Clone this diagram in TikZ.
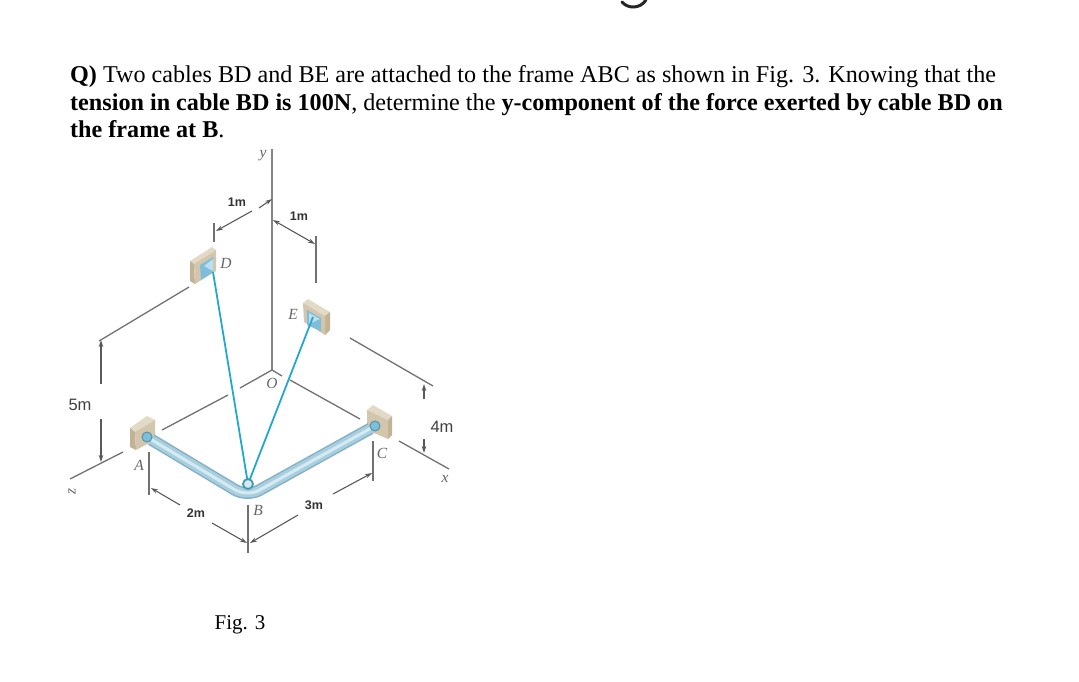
\documentclass[tikz,border=0pt]{standalone}
\usepackage{fontspec}
\setmainfont{Liberation Serif}
\newfontfamily\dimfont{Liberation Sans}
\usetikzlibrary{arrows.meta}
\definecolor{platefront}{HTML}{D4C6AC}
\definecolor{plateside}{HTML}{C2B396}
\definecolor{platetop}{HTML}{E2D9C6}
\definecolor{cablecol}{HTML}{22A8CF}
\definecolor{pipedark}{HTML}{86B0C4}
\definecolor{pipemid}{HTML}{A8CFE0}
\definecolor{pipelight}{HTML}{D6EAF2}
\definecolor{seatcol}{HTML}{7FBEDA}
\definecolor{seatlight}{HTML}{BBDFEC}
\definecolor{axiscol}{HTML}{858585}
\begin{document}
\begin{tikzpicture}[x=1pt,y=-1pt,
  axisln/.style={draw=axiscol,line width=2pt},
  guide/.style={draw=axiscol!85!black,line width=1.3pt},
  dimln/.style={draw=black!65,line width=1.1pt,-{Stealth[length=7pt,width=4.5pt]}},
  cable/.style={draw=cablecol,line width=1.8pt},
  para/.style={anchor=base west,inner sep=0pt,font=\fontsize{24.15}{28}\selectfont},
  dimlbl/.style={inner sep=0pt,font=\dimfont\bfseries\fontsize{12.5}{14}\selectfont,text=black!80},
  bigdim/.style={inner sep=0pt,font=\dimfont\fontsize{16.5}{18}\selectfont,text=black!75},
  ptlbl/.style={inner sep=0pt,font=\itshape\fontsize{15.5}{17}\selectfont,text=black!60}]
\useasboundingbox (0,0) rectangle (1079,681);
\node[para] (line1) at (70,82) {\textbf{Q)} Two cables BD and BE are attached to the frame ABC as shown in Fig. 3. Knowing that the};
\node[para] (line2) at (70,110) {\textbf{tension in cable BD is 100N}, determine the \textbf{y-component of the force exerted by cable BD on}};
\node[para] (line3) at (70,137) {\textbf{the frame at B}.};
\node[inner sep=0pt,font=\fontsize{21}{24}\selectfont] (figlbl) at (240,625) {Fig. 3};
\coordinate (arcl) at (622,2);
\coordinate (arcr) at (646,0);
\draw[line width=3pt,line cap=round,black!85] (arcl) .. controls (628,9) and (640,9) .. (arcr);

\coordinate (ytop) at (272,149);
\coordinate (O) at (272,370);
\coordinate (D) at (213,272);
\coordinate (E) at (313,317);
\coordinate (B) at (248,484);
\draw[axisln] (ytop) -- (O);
\foreach \a/\b in {O/{240,388},{228,395}/{162,430},O/{282,376},{290,380}/{360,419},{189,287}/{99,341},{123,452}/{70,479},{350,338}/{433,386},{399,441}/{449,469}} {
   \draw[guide] (\a) -- (\b);
}
\foreach \a/\b in {{214,223}/{214,242},{316,236}/{316,283},{149,452}/{149,495},{248,505}/{248,553},{373,441}/{373,481}} {
   \draw[guide] (\a) -- (\b);
}
\foreach \a/\b in {{101,384}/{101,340},{101,419}/{101,462},{424,399}/{424,384},{424,439}/{424,453},{252,211}/{216,231},{259,208}/{272,199},{298,515}/{250,543},{333,494}/{372,473},{180,505}/{151,488},{212,523}/{247,543}} {
   \draw[dimln] (\a) -- (\b);
}
\draw[dimln,{Stealth[length=7pt,width=4.5pt]}-{Stealth[length=7pt,width=4.5pt]}] (273,220) -- (315,244);

\fill[platetop] (190,261) -- (212,247) -- (216,250) -- (194,264) -- cycle;
\fill[plateside] (190,261) -- (194,264) -- (195,284) -- (190,281) -- cycle;
\fill[platefront] (194,264) -- (216,250) -- (216,271) -- (195,284) -- cycle;
\fill[seatcol] (200,265) -- (213,257) -- (213,272) -- (201,280) -- cycle;
\fill[seatlight] (204,266) -- (213,259) -- (213,271) -- cycle;

\fill[platetop] (303,303) -- (308,299) -- (330,312) -- (325,316) -- cycle;
\fill[plateside] (325,316) -- (330,312) -- (330,330) -- (325,335) -- cycle;
\fill[platefront] (303,303) -- (325,316) -- (325,335) -- (304,322) -- cycle;
\fill[seatcol] (307,310) -- (321,318) -- (321,331) -- (307,325) -- cycle;
\fill[seatlight] (309,313) -- (320,319) -- (309,324) -- cycle;

\fill[platetop] (130,428) -- (147,416) -- (155,420) -- (135,432) -- cycle;
\fill[plateside] (130,428) -- (135,432) -- (136,450) -- (130,447) -- cycle;
\fill[platefront] (135,432) -- (155,420) -- (155,440) -- (136,450) -- cycle;

\fill[platetop] (367,410) -- (373,405) -- (392,416) -- (388,420) -- cycle;
\fill[plateside] (388,420) -- (392,416) -- (392,435) -- (388,439) -- cycle;
\fill[platefront] (367,410) -- (388,420) -- (388,439) -- (367,430) -- cycle;

\draw[cable] (B) -- (D);
\draw[cable] (B) -- (E);

\coordinate (A) at (147,437);
\coordinate (bend) at (247,497);
\coordinate (C) at (375,426);
\draw[pipedark,line width=12pt,rounded corners=14pt,shorten <=5pt,shorten >=5pt] (A) -- (bend) -- (C);
\draw[pipemid,line width=9pt,rounded corners=14pt,shorten <=5pt,shorten >=5pt] (A) -- (bend) -- (C);
\draw[pipelight,line width=3pt,rounded corners=14pt,shorten <=5pt,shorten >=5pt] (A) -- (bend) -- (C);
\filldraw[fill=seatcol,draw=cablecol!55!gray,line width=1pt] (A) circle (5pt);
\filldraw[fill=seatcol,draw=cablecol!55!gray,line width=1pt] (C) circle (5pt);
\filldraw[fill=pipelight,draw=cablecol!60!gray,line width=1.8pt] (B) circle (5pt);

\foreach \p/\t in {{237,202}/1m,{299,216}/1m,{196,513}/2m,{314,505}/3m} {
   \node[dimlbl] at (\p) {\t};
}
\node[bigdim] (fivem) at (80,405) {5m};
\node[bigdim] (fourm) at (442,427) {4m};
\foreach \p/\t in {{263,156}/y,{226,263}/D,{293,314}/E,{272,383}/O,{139,465}/A,{258,510}/B,{382,453}/C,{445,479}/x} {
   \node[ptlbl] at (\p) {\t};
}
\node[ptlbl,rotate=90] (zlbl) at (72,491) {z};
\end{tikzpicture}
\end{document}
